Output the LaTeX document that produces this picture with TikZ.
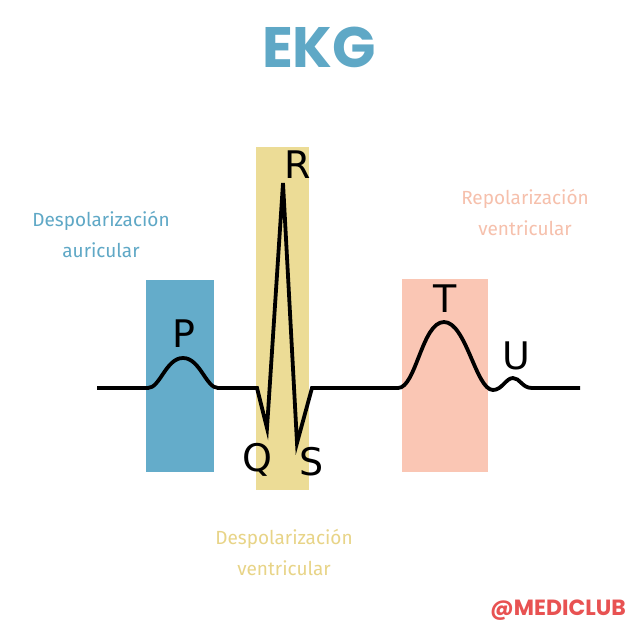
\documentclass[tikz,border=0pt]{standalone}
\usepackage{fontspec}
\setmainfont{DejaVu Sans}
\newfontfamily\titlefont{Poppins}
\newfontfamily\labelfont{Fira Sans}
\definecolor{ekgblue}{RGB}{100,172,202}
\definecolor{ekgyellow}{RGB}{236,220,150}
\definecolor{ekgpink}{RGB}{250,198,180}
\definecolor{txtblue}{RGB}{95,168,198}
\definecolor{txtyellow}{RGB}{232,212,135}
\definecolor{txtpink}{RGB}{246,192,172}
\definecolor{brandred}{RGB}{232,82,82}
\tikzset{
  wavelbl/.style={font=\fontsize{38}{38}\selectfont, text=black, inner sep=0pt},
  sidelbl/.style={font=\labelfont\fontsize{19}{31}\selectfont, align=center, inner sep=0pt},
  wave/.style={line width=3.8pt, black, line join=miter, miter limit=12}
}
\begin{document}
\begin{tikzpicture}[x=1pt,y=-1pt]
\fill[white] (0,0) rectangle (640,640);
\useasboundingbox (0,0) rectangle (640,640);
% bands
\fill[ekgblue] (146,280) rectangle (214,472);
\fill[ekgyellow] (256,147) rectangle (309,490);
\fill[ekgpink] (402,279) rectangle (488,472);
% title
\node[font=\titlefont\bfseries\fontsize{57}{57}\selectfont, text=txtblue, inner sep=0pt] (title) at (319,47) {EKG};
% wave
\draw[wave] (97,388) -- (148,388)
  .. controls (160,388) and (166,358) .. (183,358)
  .. controls (200,358) and (206,388) .. (218,388)
  -- (257,388) -- (267,428) -- (283,183) -- (297,443) -- (312,388)
  -- (398,388)
  .. controls (416,388) and (422,322) .. (444,322)
  .. controls (466,322) and (476,390) .. (493,390)
  .. controls (502,390) and (506,378) .. (513,378)
  .. controls (520,378) and (522,388) .. (532,388)
  -- (580,388);
% wave letters
\node[wavelbl] (P) at (184,334) {P};
\node[wavelbl] (R) at (298,165) {R};
\node[wavelbl] (Q) at (257,460) {Q};
\node[wavelbl] (S) at (312,462) {S};
\node[wavelbl] (T) at (445,299) {T};
\node[wavelbl] (U) at (516,356) {U};
% side labels
\node[sidelbl, text=txtblue] (atr) at (101,235) {Despolarización\\auricular};
\node[sidelbl, text=txtpink] (rep) at (525,213) {Repolarización\\ventricular};
\node[sidelbl, text=txtyellow] (ven) at (284,552) {Despolarización\\ventricular};
% brand
\node[font=\titlefont\bfseries\fontsize{22}{22}\selectfont, text=brandred, inner sep=0pt] (brand) at (558,610) {@MEDICLUB};
\end{tikzpicture}
\end{document}
